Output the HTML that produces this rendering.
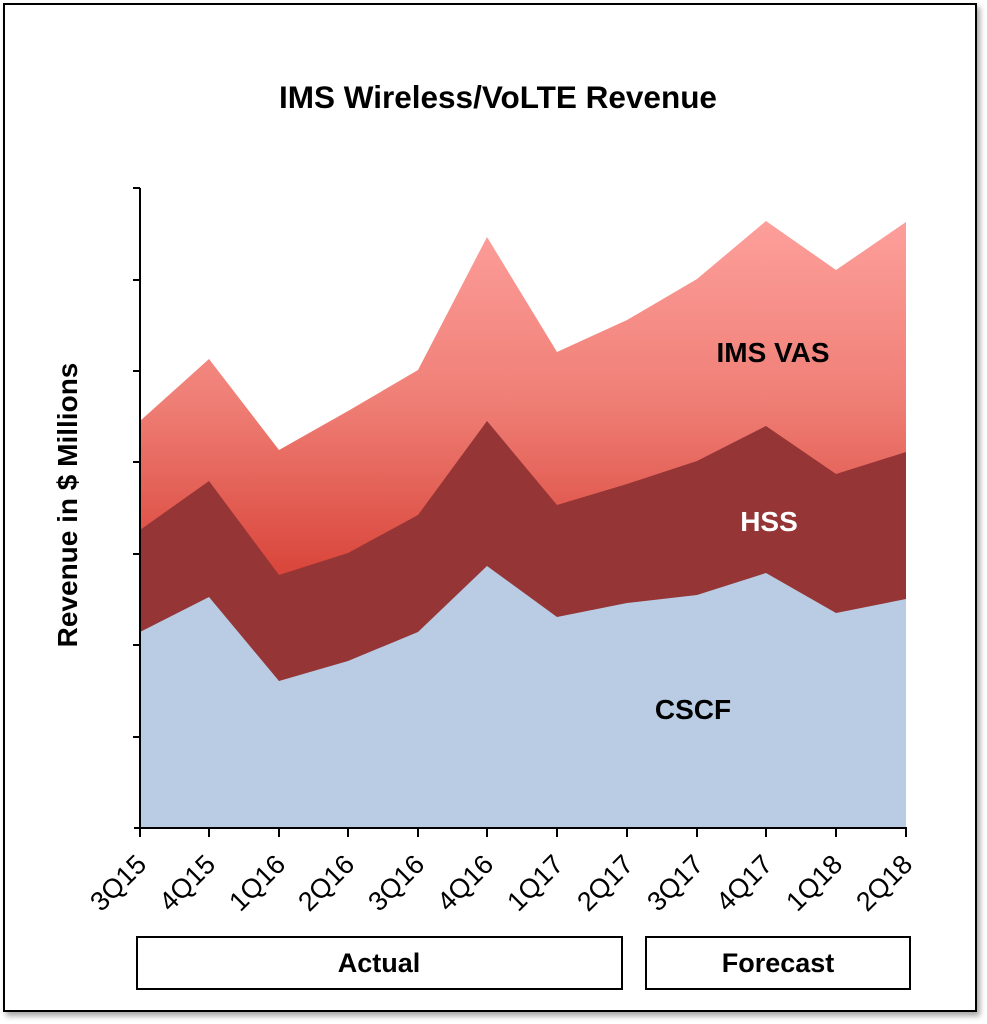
<!DOCTYPE html>
<html><head><meta charset="utf-8"><style>
html,body{margin:0;padding:0;background:#fff;}
svg{display:block;font-family:"Liberation Sans",Arial,sans-serif;}
</style></head><body>
<svg width="987" height="1024" viewBox="0 0 987 1024" xmlns="http://www.w3.org/2000/svg">
<defs>
<linearGradient id="g" gradientUnits="userSpaceOnUse" x1="0" y1="225" x2="0" y2="575">
<stop offset="0" stop-color="#fd9e9a"/>
<stop offset="0.5" stop-color="#ef7f76"/>
<stop offset="1" stop-color="#d9453a"/>
</linearGradient>
<filter id="sh" x="-5%" y="-5%" width="110%" height="110%"><feDropShadow dx="3" dy="4" stdDeviation="3" flood-color="#000" flood-opacity="0.35"/></filter>
</defs>
<rect x="4" y="4" width="972" height="1007" fill="#fff" stroke="#000" stroke-width="2" filter="url(#sh)"/>
<text x="498" y="108" font-size="31.5" font-weight="bold" text-anchor="middle">IMS Wireless/VoLTE Revenue</text>
<polygon fill="url(#g)" points="140,421 209,359 279,450 348,411 418,370 487,237 557,352 627,320 697,279 766,221 836,270 906,222 906,828 140,828"/>
<polygon fill="#953535" points="140,530 209,481 279,575 348,553 418,515 487,421 557,505 627,484 697,461 766,426 836,474 906,452 906,828 140,828"/>
<polygon fill="#b9cce4" points="140,632 209,597 279,681 348,661 418,632 487,566 557,617 627,603 697,595 766,573 836,613 906,599 906,828 140,828"/>
<g stroke="#000" stroke-width="2" fill="none">
<line x1="140" y1="188" x2="140" y2="829"/>
<line x1="134" y1="828" x2="907" y2="828"/>
<path d="M133 188H140M133 280H140M133 371H140M133 462H140M133 554H140M133 645H140M133 737H140"/>
<path d="M140 828V837M209 828V837M279 828V837M348 828V837M418 828V837M487 828V837M557 828V837M627 828V837M697 828V837M766 828V837M836 828V837M906 828V837"/>
</g>
<text transform="translate(77,505) rotate(-90)" font-size="28" font-weight="bold" text-anchor="middle">Revenue in $ Millions</text>
<text x="773" y="362" font-size="28" font-weight="bold" text-anchor="middle">IMS VAS</text>
<text x="769" y="531" font-size="28" font-weight="bold" fill="#fff" text-anchor="middle">HSS</text>
<text x="693" y="719" font-size="28" font-weight="bold" text-anchor="middle">CSCF</text>
<g font-size="27" text-anchor="end">
<text transform="translate(148,866) rotate(-45)">3Q15</text>
<text transform="translate(217,866) rotate(-45)">4Q15</text>
<text transform="translate(287,866) rotate(-45)">1Q16</text>
<text transform="translate(356,866) rotate(-45)">2Q16</text>
<text transform="translate(426,866) rotate(-45)">3Q16</text>
<text transform="translate(495,866) rotate(-45)">4Q16</text>
<text transform="translate(565,866) rotate(-45)">1Q17</text>
<text transform="translate(635,866) rotate(-45)">2Q17</text>
<text transform="translate(705,866) rotate(-45)">3Q17</text>
<text transform="translate(774,866) rotate(-45)">4Q17</text>
<text transform="translate(844,866) rotate(-45)">1Q18</text>
<text transform="translate(914,866) rotate(-45)">2Q18</text>
</g>
<rect x="137" y="937" width="485" height="52" fill="#fff" stroke="#000" stroke-width="2"/>
<rect x="646" y="937" width="264" height="52" fill="#fff" stroke="#000" stroke-width="2"/>
<text x="379" y="972" font-size="27" font-weight="bold" text-anchor="middle">Actual</text>
<text x="778" y="972" font-size="27" font-weight="bold" text-anchor="middle">Forecast</text>
</svg>
</body></html>
